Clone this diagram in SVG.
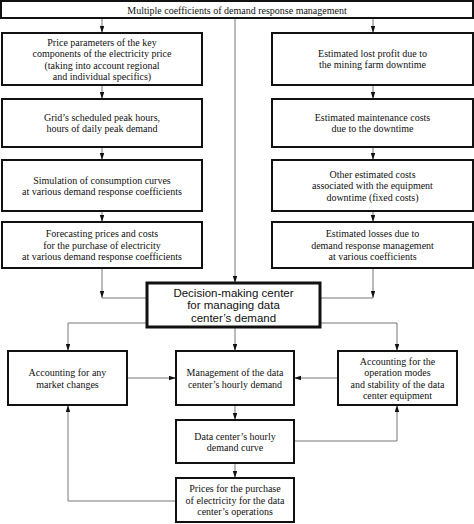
<svg xmlns="http://www.w3.org/2000/svg" width="474" height="524" viewBox="0 0 474 524">
<style>
.box{fill:#fff;stroke:#111;stroke-width:2}
.dbox{fill:#fff;stroke:#111;stroke-width:3}
.t{font-family:"Liberation Serif","Times New Roman",serif;font-size:10px;fill:#111;text-anchor:middle}
.ts{font-family:"Liberation Sans",Arial,sans-serif;font-size:11.5px;fill:#111;text-anchor:middle}
.c{fill:none;stroke:#777;stroke-width:1}
</style>
<defs>
<marker id="ah" markerUnits="userSpaceOnUse" markerWidth="8" markerHeight="5" refX="7" refY="2.2" orient="auto">
<path d="M0,0 L7,2.2 L0,4.4 z" fill="#111"/>
</marker>
</defs>
<rect width="474" height="524" fill="#fff"/>
<g id="connectors">
<path class="c" d="M235,18 V283" marker-end="url(#ah)"/>
<path class="c" d="M102,18 V33" marker-end="url(#ah)"/>
<path class="c" d="M373,18 V33" marker-end="url(#ah)"/>
<path class="c" d="M102,85 V99" marker-end="url(#ah)"/>
<path class="c" d="M373,85 V99" marker-end="url(#ah)"/>
<path class="c" d="M102,147 V160" marker-end="url(#ah)"/>
<path class="c" d="M373,147 V160" marker-end="url(#ah)"/>
<path class="c" d="M102,211 V222" marker-end="url(#ah)"/>
<path class="c" d="M373,211 V222" marker-end="url(#ah)"/>
<path class="c" d="M102,268 V298" marker-end="url(#ah)"/>
<path class="c" d="M102,298 H147"/>
<path class="c" d="M373,268 V298" marker-end="url(#ah)"/>
<path class="c" d="M373,298 H320"/>
<path class="c" d="M147,323 H68 V351" marker-end="url(#ah)"/>
<path class="c" d="M320,323 H397 V351" marker-end="url(#ah)"/>
<path class="c" d="M235,327 V351" marker-end="url(#ah)"/>
<path class="c" d="M127,378 H176" marker-end="url(#ah)"/>
<path class="c" d="M338,378 H294" marker-end="url(#ah)"/>
<path class="c" d="M235,405 V420" marker-end="url(#ah)"/>
<path class="c" d="M235,463 V478" marker-end="url(#ah)"/>
<path class="c" d="M294,441 H397 V405" marker-end="url(#ah)"/>
<path class="c" d="M176,501 H68 V405" marker-end="url(#ah)"/>
</g>
<g id="top">
<rect class="box" x="1" y="1" width="472" height="17"/>
<text class="t" x="237" y="13.5">Multiple coefficients of demand response management</text>
</g>
<g id="price-params">
<rect class="box" x="2" y="33" width="200" height="52"/>
<text class="t" x="102" y="45.5">Price parameters of the key</text>
<text class="t" x="102" y="57">components of the electricity price</text>
<text class="t" x="102" y="68.5">(taking into account regional</text>
<text class="t" x="102" y="80">and individual specifics)</text>
</g>
<g id="lost-profit">
<rect class="box" x="272" y="33" width="201" height="52"/>
<text class="t" x="372.5" y="56.5">Estimated lost profit due to</text>
<text class="t" x="372.5" y="68">the mining farm downtime</text>
</g>
<g id="peak-hours">
<rect class="box" x="2" y="99" width="200" height="48"/>
<text class="t" x="102" y="120.5">Grid’s scheduled peak hours,</text>
<text class="t" x="102" y="132">hours of daily peak demand</text>
</g>
<g id="maintenance">
<rect class="box" x="272" y="99" width="201" height="48"/>
<text class="t" x="372.5" y="120.5">Estimated maintenance costs</text>
<text class="t" x="372.5" y="132">due to the downtime</text>
</g>
<g id="simulation">
<rect class="box" x="2" y="160" width="200" height="51"/>
<text class="t" x="102" y="183.5">Simulation of consumption curves</text>
<text class="t" x="102" y="195">at various demand response coefficients</text>
</g>
<g id="other-costs">
<rect class="box" x="272" y="160" width="201" height="51"/>
<text class="t" x="372.5" y="177.5">Other estimated costs</text>
<text class="t" x="372.5" y="189">associated with the equipment</text>
<text class="t" x="372.5" y="200.5">downtime (fixed costs)</text>
</g>
<g id="forecasting">
<rect class="box" x="2" y="222" width="200" height="46"/>
<text class="t" x="102" y="237">Forecasting prices and costs</text>
<text class="t" x="102" y="248.5">for the purchase of electricity</text>
<text class="t" x="102" y="260">at various demand response coefficients</text>
</g>
<g id="losses">
<rect class="box" x="272" y="222" width="201" height="46"/>
<text class="t" x="372.5" y="237">Estimated losses due to</text>
<text class="t" x="372.5" y="248.5">demand response management</text>
<text class="t" x="372.5" y="260">at various coefficients</text>
</g>
<g id="decision">
<rect class="dbox" x="147" y="283" width="173" height="44"/>
<text class="ts" x="233.5" y="296.5">Decision-making center</text>
<text class="ts" x="233.5" y="309">for managing data</text>
<text class="ts" x="233.5" y="321.5">center’s demand</text>
</g>
<g id="market">
<rect class="box" x="8" y="351" width="119" height="54"/>
<text class="t" x="67.5" y="376">Accounting for any</text>
<text class="t" x="67.5" y="387.5">market changes</text>
</g>
<g id="management">
<rect class="box" x="176" y="351" width="118" height="54"/>
<text class="t" x="235" y="376">Management of the data</text>
<text class="t" x="235" y="387.5">center’s hourly demand</text>
</g>
<g id="equipment">
<rect class="box" x="338" y="351" width="119" height="54"/>
<text class="t" x="397.5" y="364.5">Accounting for the</text>
<text class="t" x="397.5" y="376">operation modes</text>
<text class="t" x="397.5" y="387.5">and stability of the data</text>
<text class="t" x="397.5" y="399">center equipment</text>
</g>
<g id="curve">
<rect class="box" x="176" y="420" width="118" height="43"/>
<text class="t" x="235" y="439.5">Data center’s hourly</text>
<text class="t" x="235" y="451">demand curve</text>
</g>
<g id="prices">
<rect class="box" x="176" y="478" width="118" height="44"/>
<text class="t" x="235" y="492">Prices for the purchase</text>
<text class="t" x="235" y="503.5">of electricity for the data</text>
<text class="t" x="235" y="515">center’s operations</text>
</g>
</svg>
